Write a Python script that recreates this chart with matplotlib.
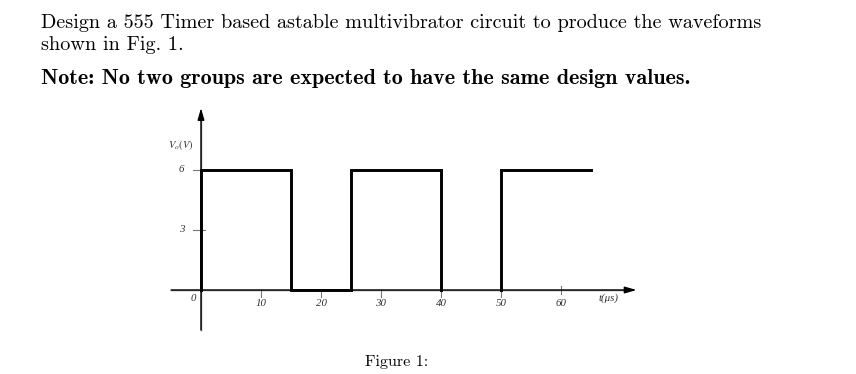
import numpy as np
import matplotlib
matplotlib.use("Agg")
import matplotlib.pyplot as plt

# waveform data (t in microseconds, V in volts); NaN marks a gap in the drawn trace
t_us = [0, 0, 15, 15, 25, 25, 40, 40, np.nan, 50, 50, 65]
v_out = [0, 6, 6, 0, 0, 6, 6, 0, np.nan, 0, 6, 6]

x_ticks = [10, 20, 30, 40, 50, 60]
y_ticks = [3, 6]

fig = plt.figure(figsize=(8.56, 3.74), dpi=100)
W, H = 856, 374

# text above the figure
fig.text(41 / W, 1 - 28 / H,
         "Design a 555 Timer based astable multivibrator circuit to produce the waveforms",
         family="cmr10", fontsize=14.55, va="baseline", ha="left")
fig.text(41 / W, 1 - 50 / H, "shown in Fig. 1.",
         family="cmr10", fontsize=14.55, va="baseline", ha="left")
fig.text(41 / W, 1 - 84 / H, "Note: No two groups are expected to have the same design values.",
         family="cmb10", fontsize=15.9, va="baseline", ha="left")
fig.text(397 / W, 1 - 362 / H, "Figure 1:", family="cmr10", fontsize=11.6,
         va="center", ha="center")

# axes region: x -5..75 -> px 171..651, y -2.2..9.5 -> px 334..100
ax = fig.add_axes([171 / W, (H - 334) / H, 480 / W, 234 / H])
ax.set_xlim(-5, 75)
ax.set_ylim(-2.2, 9.5)
ax.axis("off")

axis_col = "#777777"
ax.annotate("", xy=(72.6, 0), xytext=(-5, 0),
            arrowprops=dict(arrowstyle="-|>,head_length=0.7,head_width=0.2",
                            color="black", lw=1.0, shrinkA=0, shrinkB=0))
ax.plot([-5, 71], [0, 0], color=axis_col, lw=1.0)
ax.annotate("", xy=(0, 9.1), xytext=(0, -2.0),
            arrowprops=dict(arrowstyle="-|>,head_length=0.7,head_width=0.2",
                            color="black", lw=1.0, shrinkA=0, shrinkB=0))
ax.plot([0, 0], [-2.0, 8.6], color=axis_col, lw=1.0)

# ticks
for xt in x_ticks:
    if xt == 60:
        ax.plot([xt, xt], [-0.22, 0.22], color=axis_col, lw=0.8)
    else:
        ax.plot([xt, xt], [-0.35, 0], color=axis_col, lw=0.8)
for yt in y_ticks:
    if yt == 3:
        ax.plot([-1.3, 0.7], [yt, yt], color=axis_col, lw=0.8)
    else:
        ax.plot([-1.3, 0], [yt, yt], color=axis_col, lw=0.8)

lab = dict(family="Liberation Serif", style="italic", fontsize=7.8, color="#333333")
for xt in x_ticks:
    ax.text(xt, -0.68, str(xt), ha="center", va="center", **lab)
ax.text(-1.3, -0.42, "0", ha="center", va="center", **lab)
for yt in y_ticks:
    ax.text(-3.2, yt, str(yt), ha="center", va="center", **lab)
ax.text(68.0, -0.4, "t(μs)", ha="center", va="center", **lab)
ax.text(-3.3, 7.25, "$V_o(V)$", ha="center", va="center", fontsize=7.6,
        color="#333333", math_fontfamily="stix")

# waveform
ax.plot(t_us, v_out, color="black", lw=2.1, solid_joinstyle="miter")

fig.savefig("out.png", dpi=100)
